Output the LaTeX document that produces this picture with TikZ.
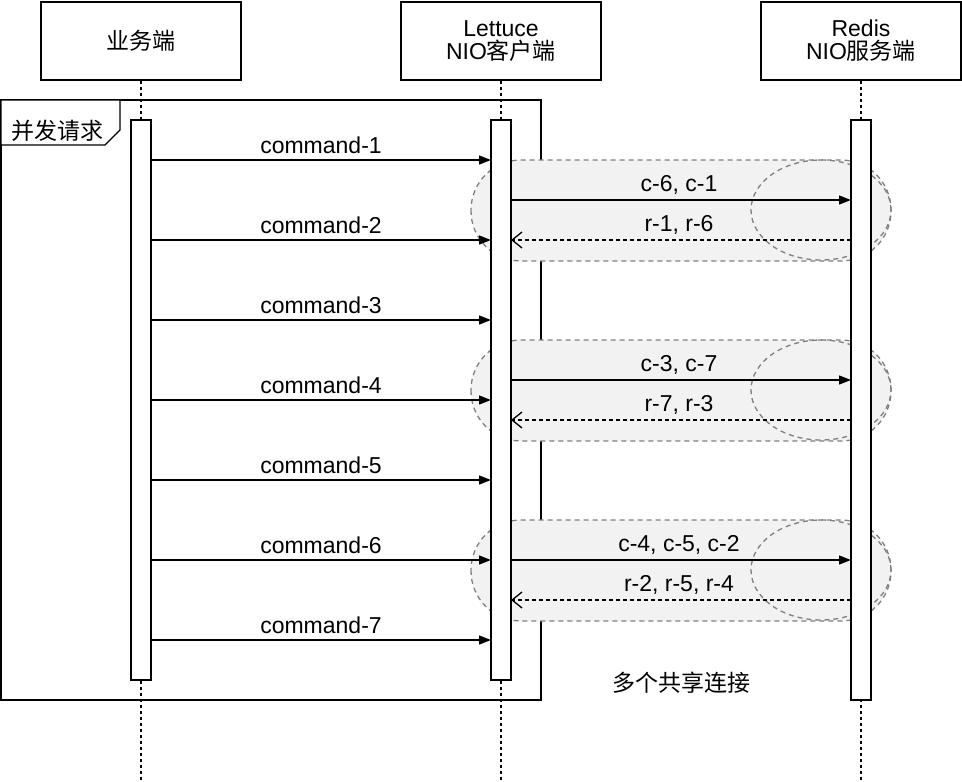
\documentclass[tikz,border=0pt]{standalone}
\usepackage{fontspec}
\setmainfont{Liberation Sans}
\newfontfamily\cjk{Noto Sans CJK SC}
\usetikzlibrary{arrows.meta}
\begin{document}
\begin{tikzpicture}[x=1pt,y=-1pt,
  font=\fontsize{23}{27}\selectfont,
  lw/.style={line width=1.3pt},
  head/.style={draw,lw,fill=white,minimum width=200pt,minimum height=78pt,align=center,inner sep=0},
  bar/.style={draw,lw,fill=white},
  life/.style={lw,dash pattern=on 3pt off 3pt},
  msg/.style={lw,-{Triangle[length=12pt,width=9pt]}},
  ret/.style={lw,dash pattern=on 4pt off 3pt,-{Straight Barb[length=10pt,width=16pt]}},
  pill/.style={draw=gray,lw,dash pattern=on 5pt off 4pt,fill=black!5,rounded corners=50pt},
  lbl/.style={above=2pt}]
\useasboundingbox (0,0) rectangle (962,782);
% frame
\draw[lw] (1,100) rectangle (541,700);
\draw[lw,fill=white] (1,100) -- (120,100) -- (120,130) -- (105,145) -- (1,145) -- cycle;
\node[anchor=center] (fl) at (58,131) {\cjk 并发请求};
% lifelines
\node[head] (a) at (141,41) {\cjk 业务端};
\node[head] (b) at (501,41) {Lettuce\\[-4pt]NIO{\cjk 客户端}};
\node[head] (c) at (861,41) {Redis\\[-4pt]NIO{\cjk 服务端}};
\coordinate (ae) at (141,782); \coordinate (be) at (501,782); \coordinate (ce) at (861,782);
\draw[life] (a.south) -- (ae);
\draw[life] (b.south) -- (be);
\draw[life] (c.south) -- (ce);
% shared connection pills
\foreach \y in {160,340,520}{
  \draw[pill] (471,\y) rectangle (891,\y+101);
  \draw[draw=gray,lw,dash pattern=on 5pt off 4pt] (821,\y+50) ellipse (70pt and 50pt);
}
\draw[bar] (131,120) rectangle (151,680);
\draw[bar] (491,120) rectangle (511,680);
\draw[bar] (851,120) rectangle (871,700);
% commands
\foreach \i/\y in {1/160,2/240,3/320,4/400,5/480,6/560,7/640}{
  \coordinate (s\i) at (151,\y); \coordinate (t\i) at (491,\y);
  \draw[msg] (s\i) -- node[lbl] {command-\i} (t\i);
}
\foreach \n/\y/\c/\r in {1/200/{c-6, c-1}/{r-1, r-6},2/380/{c-3, c-7}/{r-7, r-3},3/560/{c-4, c-5, c-2}/{r-2, r-5, r-4}}{
  \coordinate (p\n) at (511,\y); \coordinate (q\n) at (851,\y);
  \coordinate (pr\n) at (511,\y+40); \coordinate (qr\n) at (851,\y+40);
  \draw[msg] (p\n) -- node[lbl,xshift=-2pt] {\c} (q\n);
  \draw[ret] (qr\n) -- node[lbl,xshift=-2pt] {\r} (pr\n);
}
\node (note) at (681,683) {\cjk 多个共享连接};
\end{tikzpicture}
\end{document}
